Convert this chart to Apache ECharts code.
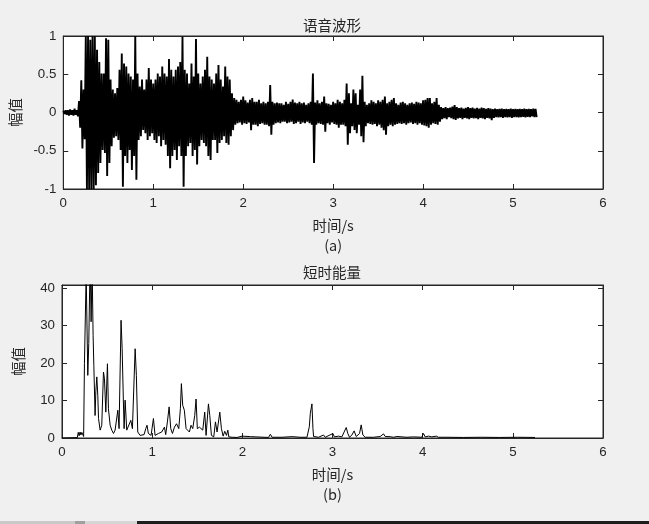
<!DOCTYPE html>
<html>
<head>
<meta charset="utf-8">
<script src="https://cdn.jsdelivr.net/npm/echarts@6/dist/echarts.min.js"></script>
<style>
html,body{margin:0;padding:0;background:#f0f0f0;}
#c{width:649px;height:524px;}
</style>
</head>
<body>
<div id="c"></div>
<script>
// ---------------- data ----------------
const X_TICKS = [0, 1, 2, 3, 4, 5, 6];
const WAVE_TICKS = [-1, -0.5, 0, 0.5, 1];
const ENERGY_TICKS = [0, 10, 20, 30, 40];
const WAVE_STEP = 0.025; // seconds between envelope samples
// upper (positive) excursions of the speech waveform, one per step
const WAVE_UPPER = [
0.02,0.03,0.03,0.04,0.03,0.05,0.03,0.15,0.42,0.3,
1,1,0.95,1,1,0.82,0.66,0.51,0.51,0.97,
0.95,0.43,0.3,0.25,0.32,0.56,0.77,0.64,0.6,0.51,
0.47,0.43,1.0,0.51,0.34,0.43,0.3,0.43,0.58,0.43,
0.38,0.43,0.51,0.47,0.6,0.51,0.47,0.7,0.56,0.47,
0.56,0.6,0.66,0.99,0.56,0.51,0.38,0.64,0.47,0.96,
0.51,0.38,0.47,0.56,0.73,0.47,0.43,0.38,0.51,0.62,
0.43,0.34,0.6,0.47,0.43,0.25,0.19,0.165,0.14,0.165,
0.21,0.16,0.13,0.165,0.19,0.14,0.14,0.165,0.12,0.14,
0.12,0.14,0.36,0.14,0.12,0.13,0.12,0.12,0.1,0.14,
0.113,0.14,0.17,0.13,0.12,0.14,0.12,0.13,0.1,0.12,
0.14,0.51,0.13,0.16,0.12,0.14,0.21,0.12,0.113,0.1,
0.14,0.12,0.165,0.14,0.12,0.165,0.38,0.25,0.12,0.3,
0.25,0.1,0.3,0.48,0.14,0.1,0.12,0.16,0.14,0.12,
0.16,0.14,0.165,0.21,0.12,0.14,0.165,0.19,0.12,0.1,
0.13,0.14,0.12,0.1,0.12,0.13,0.113,0.14,0.13,0.12,
0.16,0.165,0.19,0.19,0.12,0.14,0.19,0.1,0.07,0.057,
0.07,0.057,0.065,0.078,0.096,0.07,0.057,0.065,0.052,0.061,
0.07,0.057,0.065,0.052,0.061,0.052,0.065,0.057,0.048,0.057,
0.052,0.043,0.052,0.043,0.048,0.052,0.043,0.048,0.043,0.052,
0.043,0.048,0.043,0.048,0.043,0.052,0.043,0.048,0.043,0.052,
0.048
];
// lower (negative) excursions, one per step (half a step later)
const WAVE_LOWER = [
-0.02,-0.03,-0.04,-0.03,-0.04,-0.03,-0.05,-0.2,-0.47,-0.35,
-1,-1,-1,-1,-0.95,-0.79,-0.66,-0.49,-0.53,-0.83,
-0.66,-0.44,-0.33,-0.31,-0.36,-0.49,-0.97,-0.57,-0.66,-0.49,
-0.75,-0.57,-0.88,-0.36,-0.31,-0.23,-0.27,-0.36,-0.31,-0.27,
-0.36,-0.4,-0.31,-0.44,-0.36,-0.42,-0.57,-0.73,-0.57,-0.49,
-0.62,-0.44,-0.57,-0.97,-0.57,-0.44,-0.4,-0.57,-0.49,-0.68,
-0.44,-0.36,-0.4,-0.44,-0.57,-0.62,-0.36,-0.36,-0.53,-0.4,
-0.36,-0.31,-0.4,-0.42,-0.31,-0.23,-0.16,-0.14,-0.13,-0.16,
-0.14,-0.15,-0.13,-0.23,-0.16,-0.16,-0.18,-0.15,-0.14,-0.16,
-0.16,-0.18,-0.29,-0.16,-0.14,-0.13,-0.14,-0.12,-0.12,-0.14,
-0.13,-0.12,-0.15,-0.14,-0.12,-0.15,-0.13,-0.14,-0.12,-0.14,
-0.16,-0.66,-0.16,-0.14,-0.15,-0.16,-0.25,-0.14,-0.16,-0.13,
-0.15,-0.16,-0.2,-0.16,-0.16,-0.18,-0.42,-0.27,-0.18,-0.23,
-0.27,-0.16,-0.31,-0.39,-0.18,-0.14,-0.15,-0.16,-0.15,-0.18,
-0.16,-0.2,-0.23,-0.29,-0.18,-0.16,-0.18,-0.16,-0.15,-0.14,
-0.15,-0.14,-0.16,-0.14,-0.13,-0.15,-0.14,-0.16,-0.14,-0.16,
-0.17,-0.18,-0.2,-0.16,-0.14,-0.15,-0.16,-0.12,-0.087,-0.074,
-0.087,-0.061,-0.074,-0.087,-0.096,-0.078,-0.07,-0.087,-0.07,-0.078,
-0.087,-0.07,-0.078,-0.074,-0.087,-0.07,-0.078,-0.087,-0.07,-0.078,
-0.1,-0.07,-0.061,-0.065,-0.061,-0.07,-0.061,-0.065,-0.061,-0.07,
-0.061,-0.061,-0.065,-0.061,-0.057,-0.065,-0.057,-0.061,-0.052,-0.061,
-0.061
];
// short-time energy: [time (s), value]
const ENERGY = [
[0,0],[0.17,0.1],[0.18,1.5],[0.19,0.6],[0.2,1.6],[0.21,0.8],[0.22,1.5],[0.24,0.4],
[0.249,19.8],[0.268,44],[0.286,16.7],[0.297,25.2],[0.312,48],[0.323,31],[0.334,46],
[0.345,27.4],[0.353,19.4],[0.367,6],[0.375,12.3],[0.386,16.3],[0.397,11.4],[0.405,5.2],
[0.423,2.1],[0.441,3.4],[0.46,17.6],[0.471,15.8],[0.486,6.9],[0.504,19.8],[0.515,7.8],
[0.534,3.4],[0.552,2.1],[0.571,1.2],[0.589,2.1],[0.607,2.5],[0.619,7.4],[0.633,2.5],
[0.655,31.4],[0.667,23.8],[0.681,9.6],[0.689,2.5],[0.7,10.1],[0.718,2.1],[0.737,1.6],
[0.763,4.7],[0.781,2.5],[0.811,23.8],[0.825,16.7],[0.84,1.6],[0.866,0.7],[0.885,1.2],
[0.91,0.9],[0.929,2.5],[0.943,3.4],[0.958,1.2],[0.988,0.7],[1.014,5.2],[1.032,0.7],
[1.069,1.2],[1.106,1.6],[1.136,2.9],[1.15,0.9],[1.169,4.3],[1.188,8.3],[1.206,2.5],
[1.225,1.2],[1.247,2.9],[1.27,3.8],[1.295,2.5],[1.313,7.8],[1.324,14.5],[1.339,8.7],
[1.357,7.4],[1.376,2.5],[1.394,2.9],[1.413,1.6],[1.431,3.4],[1.45,2.5],[1.461,2.1],
[1.472,6],[1.487,10.4],[1.501,2.5],[1.524,2.9],[1.546,2.5],[1.561,2.1],[1.583,6.9],
[1.598,0.7],[1.624,9.1],[1.639,6],[1.657,0.7],[1.683,0.3],[1.702,4.3],[1.72,1.6],
[1.75,6.9],[1.768,2.5],[1.787,0.5],[1.805,1.8],[1.824,0.7],[1.839,2.1],[1.85,0.3],
[1.887,0.2],[1.942,0.15],[1.997,0.5],[2.015,0.2],[2.089,0.36],[2.108,0.15],[2.29,0.15],[2.311,1.0],
[2.33,0.2],[2.44,0.2],[2.55,0.36],[2.64,0.2],[2.717,0.2],[2.743,3],[2.754,6.6],[2.772,9.1],
[2.783,2.6],[2.79,0.4],[2.846,0.2],[2.9,0.8],[2.92,0.2],[3.005,1.2],[3.02,0.3],[3.067,0.5],
[3.104,0.3],[3.152,2.8],[3.17,1.2],[3.189,0.2],[3.215,0.8],[3.24,1.9],[3.263,0.4],[3.3,1.2],
[3.318,3.5],[3.337,0.8],[3.363,0.2],[3.455,0.2],[3.529,0.4],[3.55,0.3],[3.566,1.1],[3.585,0.4],
[3.64,0.35],[3.677,0.2],[3.714,0.4],[3.825,0.2],[3.899,0.3],[3.99,0.2],[4.009,1.2],[4.028,0.3],
[4.065,0.5],[4.102,0.3],[4.15,0.5],[4.176,0.2],[4.269,0.2],[4.45,0.15],[4.65,0.2],
[4.85,0.15],[5.05,0.2],[5.246,0.15]
];
const TITLES = ['语音波形', '短时能量'];
const X_NAMES = ['时间/s\n(a)', '时间/s\n(b)'];
const Y_NAME = '幅值';
const WAVE_RANGE = [-1, 1];
const ENERGY_RANGE = [0, 40.8];

// ---------------- build ----------------
const wave = [];
for (let i = 0; i < WAVE_UPPER.length; i++) {
  wave.push([i * WAVE_STEP, WAVE_UPPER[i]]);
  wave.push([i * WAVE_STEP + WAVE_STEP / 2, WAVE_LOWER[i]]);
}

const AX = '#262626';
const NUMF = 'Liberation Sans, Arial, sans-serif';
const CJK = 'Noto Sans CJK SC, sans-serif';
const TICK_FS = 13.3;
const LABEL_FS = 14.5;
const grids = [
  {left: 62, top: 36, width: 541, height: 153},
  {left: 62, top: 285, width: 541, height: 153}
].map(g => Object.assign(g, {show: true, backgroundColor: '#fff', borderColor: AX, borderWidth: 1}));

function xAx(gi, pos, label, name) {
  return {
    type: 'value', gridIndex: gi, position: pos, min: X_TICKS[0], max: X_TICKS[X_TICKS.length - 1],
    axisLine: {show: true, onZero: false, lineStyle: {color: AX}},
    axisTick: {show: true, inside: true, length: 5, lineStyle: {color: AX}, customValues: X_TICKS},
    axisLabel: {show: label, margin: 8, color: AX, fontSize: TICK_FS, fontFamily: NUMF, customValues: X_TICKS},
    splitLine: {show: false},
    name: name || '', nameLocation: 'middle', nameGap: 26,
    nameTextStyle: {color: AX, fontSize: LABEL_FS, fontFamily: CJK, lineHeight: 20}
  };
}
function yAx(gi, pos, label, rng, ticks, name) {
  return {
    type: 'value', gridIndex: gi, position: pos, min: rng[0], max: rng[1],
    axisLine: {show: true, onZero: false, lineStyle: {color: AX}},
    axisTick: {show: true, inside: true, length: 5, lineStyle: {color: AX}, customValues: ticks},
    axisLabel: {show: label, margin: 7, color: AX, fontSize: TICK_FS, fontFamily: NUMF, customValues: ticks},
    splitLine: {show: false},
    name: name || '', nameLocation: 'middle', nameGap: 36, nameRotate: 90,
    nameTextStyle: {color: AX, fontSize: LABEL_FS, fontFamily: CJK}
  };
}

const chart = echarts.init(document.getElementById('c'), null, {renderer: 'canvas'});
chart.setOption({
  animation: false,
  backgroundColor: '#f0f0f0',
  grid: grids,
  xAxis: [
    xAx(0, 'bottom', true, X_NAMES[0]), xAx(0, 'top', false),
    xAx(1, 'bottom', true, X_NAMES[1]), xAx(1, 'top', false)
  ],
  yAxis: [
    yAx(0, 'left', true, WAVE_RANGE, WAVE_TICKS, Y_NAME), yAx(0, 'right', false, WAVE_RANGE, WAVE_TICKS),
    yAx(1, 'left', true, ENERGY_RANGE, ENERGY_TICKS, Y_NAME), yAx(1, 'right', false, ENERGY_RANGE, ENERGY_TICKS)
  ],
  series: [
    {type: 'line', xAxisIndex: 0, yAxisIndex: 0, data: wave, showSymbol: false,
     lineStyle: {color: '#000', width: 1.9, join: 'bevel'}, clip: true, silent: true},
    {type: 'line', xAxisIndex: 2, yAxisIndex: 2, data: ENERGY, showSymbol: false,
     lineStyle: {color: '#000', width: 1}, clip: true, silent: true}
  ],
  graphic: [
    {type: 'text', x: 332, y: 25, style: {text: TITLES[0], fill: AX, font: LABEL_FS + 'px Noto Sans CJK SC', textAlign: 'center', textVerticalAlign: 'middle'}},
    {type: 'text', x: 332, y: 272, style: {text: TITLES[1], fill: AX, font: LABEL_FS + 'px Noto Sans CJK SC', textAlign: 'center', textVerticalAlign: 'middle'}},
    {type: 'rect', shape: {x: 0, y: 521, width: 75, height: 3}, style: {fill: '#c9c9c9'}},
    {type: 'rect', shape: {x: 75, y: 521, width: 10, height: 3}, style: {fill: '#a0a0a0'}},
    {type: 'rect', shape: {x: 85, y: 521, width: 52, height: 3}, style: {fill: '#d6d6d6'}},
    {type: 'rect', shape: {x: 137, y: 521, width: 512, height: 3}, style: {fill: '#1e1e1e'}}
  ]
});
</script>
</body>
</html>
